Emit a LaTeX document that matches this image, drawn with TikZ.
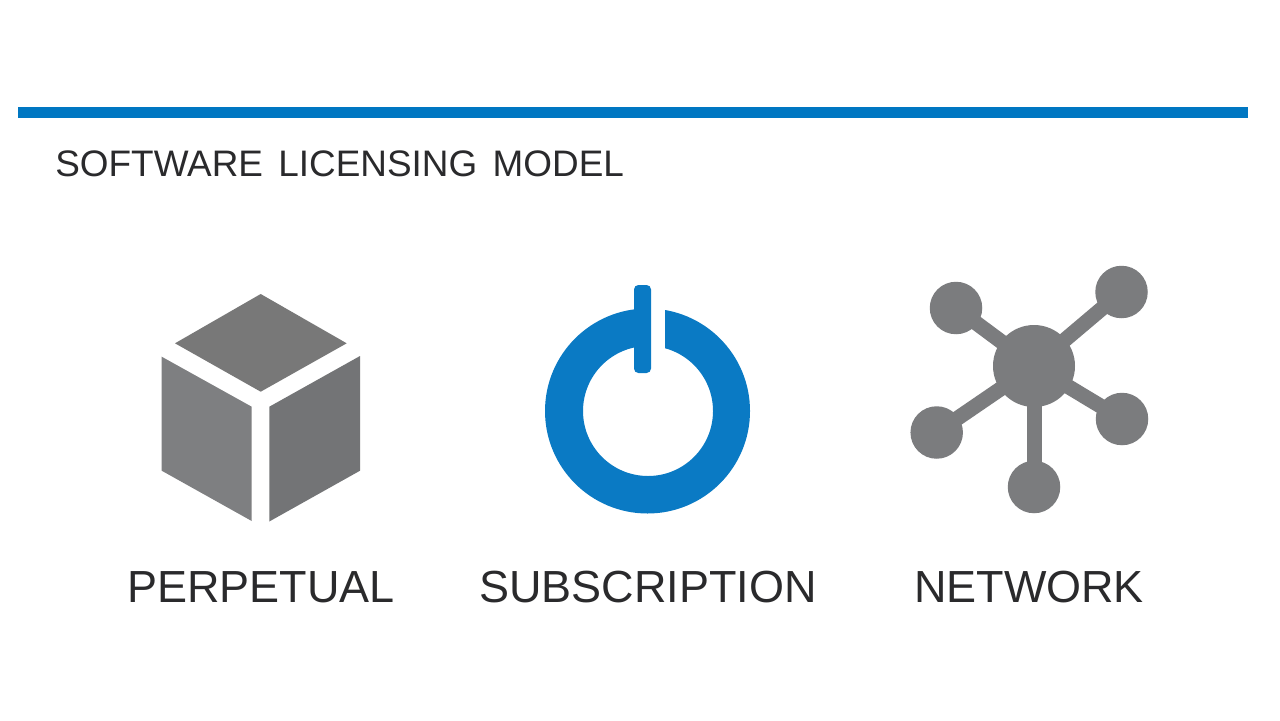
\documentclass[tikz,border=0pt]{standalone}
\usepackage{xcolor}
\usepackage{fontspec}
\setmainfont{Liberation Sans}
\newfontfamily\headfont[WordSpace=1.5]{Liberation Sans}
\definecolor{barblue}{HTML}{0077C2}
\definecolor{ringblue}{HTML}{0A7AC4}
\definecolor{iconleft}{HTML}{7E7F81}
\definecolor{icontop}{HTML}{787878}
\definecolor{iconright}{HTML}{737476}
\definecolor{netgray}{HTML}{7B7C7E}
\definecolor{inktext}{HTML}{2A2A2C}
\tikzset{
  headlabel/.style={anchor=base west, inner sep=0pt, text=inktext, font=\headfont\fontsize{21}{24}\selectfont},
  iconlabel/.style={anchor=base, inner sep=0pt, text=inktext, font=\fontsize{25.6}{30}\selectfont},
  hubdot/.style={circle, fill=netgray, inner sep=0pt, minimum size=1.64cm},
  satdot/.style={circle, fill=netgray, inner sep=0pt, minimum size=1.05cm},
  spoke/.style={draw=netgray, line width=0.3cm}
}
\begin{document}
\begin{tikzpicture}[x=0.02cm, y=-0.02cm] % one unit is one pixel of the slide
  \useasboundingbox (0,0) rectangle (1280,720);
  \fill[white] (0,0) rectangle (1280,720);

  % Top rule and heading
  \fill[barblue] (18,107) rectangle (1248,118);
  \node[headlabel] (heading) at (55,176) {SOFTWARE LICENSING MODEL};

  % Cube faces
  \fill[icontop] (260.7,294) -- (346.7,343.3) -- (260.7,391.7) -- (175,343.3) -- cycle;
  \fill[iconleft] (161.7,356.7) -- (251.7,406.7) -- (251.7,521) -- (161.7,470.7) -- cycle;
  \fill[iconright] (269.3,406.7) -- (360,356) -- (360,470.7) -- (269.3,521.5) -- cycle;

  % Power ring, slit, then the bar on top
  \fill[ringblue, even odd rule] (647.5,411) circle (102.5) (648,411) circle (65);
  \fill[white] (651,285) rectangle (665,380);
  \fill[ringblue, rounded corners=2.5pt] (634,285) rectangle (651,373);

  % Network hub and satellites
  \node[hubdot] (hub) at (1034,366) {};
  \node[satdot] (satA) at (956,308) {};
  \node[satdot] (satB) at (1121.5,292) {};
  \node[satdot] (satC) at (936.7,432.5) {};
  \node[satdot] (satD) at (1122,419) {};
  \node[satdot] (satE) at (1034,487) {};
  \foreach \sat in {satA,satB,satC,satD,satE}
    \draw[spoke] (hub.center) -- (\sat.center);

  % Labels under the icons
  \node[iconlabel] (perpetual) at (261,602) {PERPETUAL};
  \node[iconlabel] (subscription) at (648,602) {SUBSCRIPTION};
  \node[iconlabel] (network) at (1029,602) {NETWORK};
\end{tikzpicture}
\end{document}
